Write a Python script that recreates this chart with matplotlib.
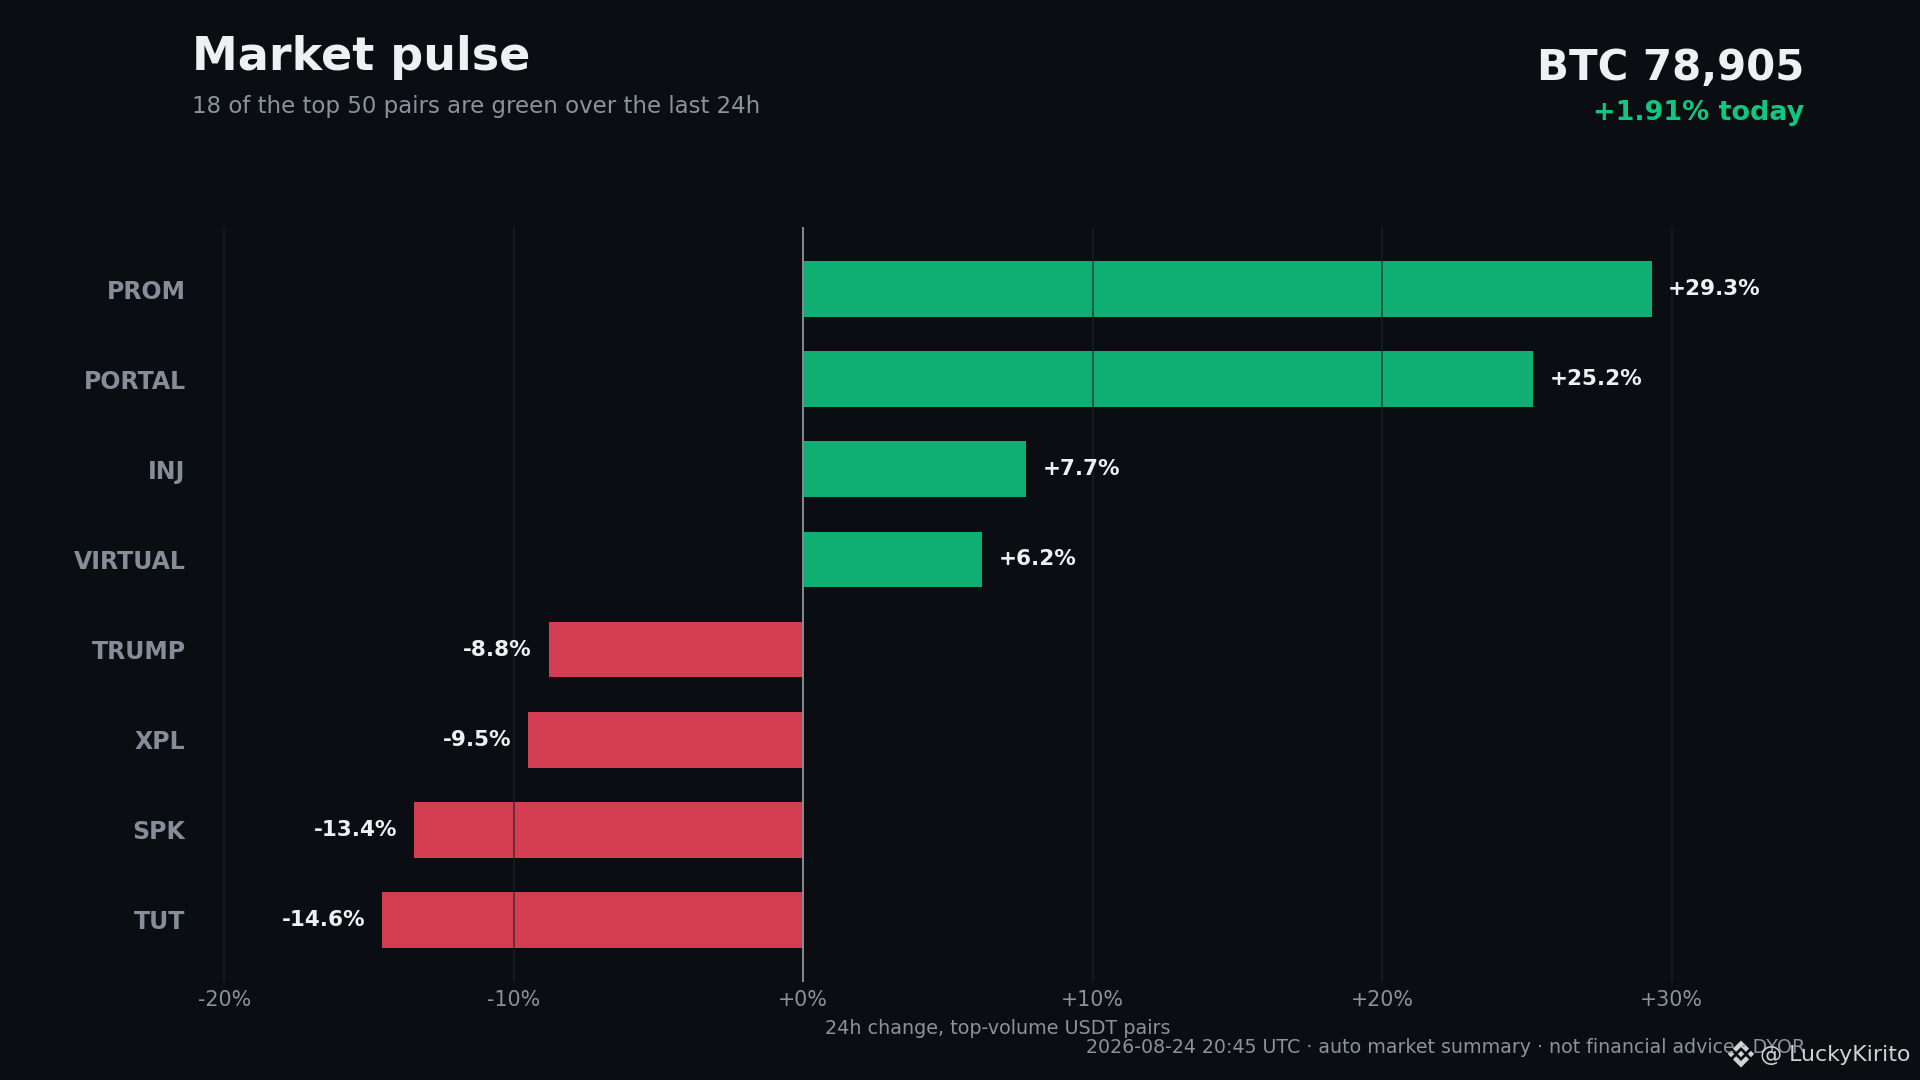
import matplotlib
matplotlib.use("Agg")
import matplotlib.pyplot as plt
from matplotlib.patches import Polygon

coins = ["PROM", "PORTAL", "INJ", "VIRTUAL", "TRUMP", "XPL", "SPK", "TUT"]
changes = [29.3, 25.2, 7.7, 6.17, -8.8, -9.5, -13.45, -14.55]
change_labels = ["+29.3%", "+25.2%", "+7.7%", "+6.2%", "-8.8%", "-9.5%", "-13.4%", "-14.6%"]
x_ticks = [-20, -10, 0, 10, 20, 30]
x_tick_labels = ["-20%", "-10%", "+0%", "+10%", "+20%", "+30%"]

BG = "#0a0e12"
GREEN = "#0fae72"
RED = "#d23d52"
MUTED = "#8b929b"
LABEL = "#858d99"
LIGHT = "#eef0f4"

W, H = 1920, 1080

fig = plt.figure(figsize=(16, 9), dpi=120, facecolor=BG)
ax = fig.add_axes([192 / W, 1 - 982 / H, (1804 - 192) / W, (982 - 227) / H], facecolor=BG)

colors = [GREEN if c >= 0 else RED for c in changes]
ypos = list(range(len(coins)))
ax.barh(ypos, changes, height=0.62, color=colors, zorder=2)

ax.set_xlim(-21.115, 34.565)
ax.set_ylim(len(coins) - 1 + 0.69, -0.69)

# grid sits on top of the bars in the original
ax.set_axisbelow(False)
ax.grid(axis="x", color="#1e2328", alpha=0.7, linewidth=1, zorder=3)
ax.axvline(0, color="#8b929b", linewidth=1.1, zorder=4)

for s in ax.spines.values():
    s.set_visible(False)

ax.set_yticks(ypos)
ax.set_yticklabels(coins, fontsize=14.2, fontweight="bold", color=LABEL)
ax.set_xticks(x_ticks)
ax.set_xticklabels(x_tick_labels, fontsize=12.4, color=MUTED)
ax.tick_params(axis="both", length=0)
ax.tick_params(axis="y", pad=3.9)
ax.tick_params(axis="x", pad=5)

for y, c, lab in zip(ypos, changes, change_labels):
    if c >= 0:
        ax.annotate(lab, (c, y), xytext=(10, 0), textcoords="offset points", va="center", ha="left",
                    fontsize=12.9, fontweight="bold", color=LIGHT, zorder=5)
    else:
        ax.annotate(lab, (c, y), xytext=(-10, 0), textcoords="offset points", va="center", ha="right",
                    fontsize=12.9, fontweight="bold", color=LIGHT, zorder=5)

fig.text(192 / W, 1 - 57 / H, "Market pulse", fontsize=27.6, fontweight="bold", color=LIGHT, va="center", ha="left")
fig.text(192 / W, 1 - 106 / H, "18 of the top 50 pairs are green over the last 24h", fontsize=13.75,
         color=MUTED, va="center", ha="left")
fig.text(1804 / W, 1 - 68 / H, "BTC 78,905", fontsize=25.1, fontweight="bold", color=LIGHT, va="center", ha="right")
fig.text(1804 / W, 1 - 113 / H, "+1.91% today", fontsize=16.2, fontweight="bold", color="#10c77f", va="center", ha="right")

fig.text(998 / W, 1 - 1028 / H, "24h change, top-volume USDT pairs", fontsize=11.5, color=MUTED, va="center", ha="center")
fig.text(1805 / W, 1 - 1047.5 / H, "2026-08-24 20:45 UTC · auto market summary · not financial advice · DYOR",
         fontsize=11.38, color=MUTED, va="center", ha="right")

# watermark
WM = "#d0d2d4"
fig.text(1760 / W, 1 - 1055 / H, "@ LuckyKirito", fontsize=13.3, color=WM, va="center", ha="left")

ICON_X, ICON_Y, ICON_R = 1741, 1054, 13.5
icon_shapes = [
    [(0, -1), (0.6, -0.4), (0.36, -0.16), (0, -0.52), (-0.36, -0.16), (-0.6, -0.4)],
    [(0, 1), (0.6, 0.4), (0.36, 0.16), (0, 0.52), (-0.36, 0.16), (-0.6, 0.4)],
    [(-0.98, 0), (-0.74, -0.24), (-0.5, 0), (-0.74, 0.24)],
    [(0.98, 0), (0.74, -0.24), (0.5, 0), (0.74, 0.24)],
    [(-0.24, 0), (0, -0.24), (0.24, 0), (0, 0.24)],
]
for shape in icon_shapes:
    pts = [((ICON_X + ICON_R * a) / W, 1 - (ICON_Y + ICON_R * b) / H) for a, b in shape]
    fig.add_artist(Polygon(pts, closed=True, facecolor=WM, edgecolor="none", transform=fig.transFigure))

fig.savefig("out.png", dpi=120, facecolor=BG)
